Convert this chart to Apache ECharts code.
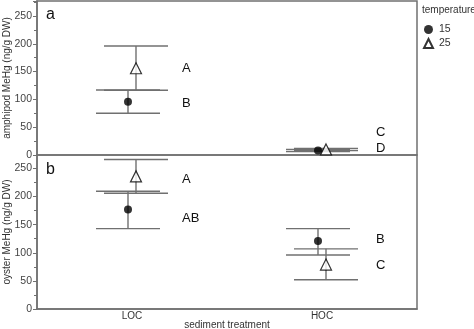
<!DOCTYPE html>
<html><head><meta charset="utf-8">
<script src="https://cdn.jsdelivr.net/npm/echarts@6/dist/echarts.min.js"></script>
<style>html,body{margin:0;padding:0;background:#fff}#c{width:474px;height:329px}</style>
</head><body><div id="c"></div>
<script>
const categories = ['LOC', 'HOC'];
const temps = ['15', '25'];
// panel a: amphipod MeHg
const amph15 = [96, 8];
const amph15Low = [75, 6];
const amph15High = [117, 10];
const amph25 = [156, 10];
const amph25Low = [116.5, 8];
const amph25High = [196, 12];
const amphLetters15 = ['B', 'D'];
const amphLetters15Y = [92, 11];
const amphLetters25 = ['A', 'C'];
const amphLetters25Y = [156, 40];
// panel b: oyster MeHg
const oys15 = [177, 121];
const oys15Low = [143, 96];
const oys15High = [209.5, 143];
const oys25 = [236, 79];
const oys25Low = [206, 52];
const oys25High = [266, 107];
const oysLetters15 = ['AB', 'B'];
const oysLetters15Y = [161, 123];
const oysLetters25 = ['A', 'C'];
const oysLetters25Y = [230, 77];
const yTicksA = [0, 50, 100, 150, 200, 250];
const yTicksB = [0, 50, 100, 150, 200, 250];

const FONT = 'Liberation Sans, Arial, sans-serif';
const GRAY = '#707070';
const DODGE = 4;
const CAPW = 32;

function errSeries(gi, low, high, off) {
  return {
    type: 'custom', xAxisIndex: gi, yAxisIndex: gi, z: 2, silent: true,
    data: low.map((l, i) => [i, l, high[i]]),
    renderItem: function (params, api) {
      const lo = api.coord([api.value(0), api.value(1)]);
      const hi = api.coord([api.value(0), api.value(2)]);
      const x = lo[0] + off;
      const st = { stroke: GRAY, lineWidth: 1.4 };
      return { type: 'group', children: [
        { type: 'line', shape: { x1: x - CAPW, y1: hi[1], x2: x + CAPW, y2: hi[1] }, style: st },
        { type: 'line', shape: { x1: x - CAPW, y1: lo[1], x2: x + CAPW, y2: lo[1] }, style: st },
        { type: 'line', shape: { x1: x, y1: hi[1], x2: x, y2: lo[1] }, style: st }
      ]};
    }
  };
}
function letterSeries(gi, letters, ys) {
  const offs = [50, 54];
  return {
    type: 'custom', xAxisIndex: gi, yAxisIndex: gi, z: 5, silent: true,
    data: ys.map((y, i) => [i, y]),
    renderItem: function (params, api) {
      const p = api.coord([api.value(0), api.value(1)]);
      return { type: 'text', x: p[0] + offs[params.dataIndex], y: p[1],
        style: { text: letters[params.dataIndex], fill: '#111', font: '13px ' + FONT, textAlign: 'left', textVerticalAlign: 'middle' } };
    }
  };
}
function pointSeries(gi, name, vals) {
  const circle = name === temps[0];
  return {
    type: 'scatter', name: name, xAxisIndex: gi, yAxisIndex: gi, z: 4,
    data: vals,
    symbol: circle ? 'circle' : 'triangle',
    symbolSize: circle ? 8 : 11,
    symbolOffset: [circle ? -DODGE : DODGE, 0],
    itemStyle: circle ? { color: '#000' } : { color: '#fff', borderColor: '#000', borderWidth: 1.2 }
  };
}
function yAxis(gi, name, max) {
  return {
    type: 'value', gridIndex: gi, min: 0, max: max, interval: 50,
    name: name, nameLocation: 'middle', nameGap: 25, nameMoveOverlap: false,
    nameTextStyle: { fontFamily: FONT, fontSize: 10, color: '#333' },
    axisLine: { show: true, lineStyle: { color: GRAY, width: 1.5 } },
    axisTick: { show: true, length: 4, lineStyle: { color: GRAY } },
    minorTick: { show: true, splitNumber: 2, length: 3, lineStyle: { color: GRAY } },
    splitLine: { show: false },
    axisLabel: { fontFamily: FONT, fontSize: 10.5, color: '#444', margin: 5, showMaxLabel: false,
      formatter: v => (gi === 0 ? yTicksA : yTicksB).includes(v) ? String(v) : '' }
  };
}
const chart = echarts.init(document.getElementById('c'), null, { renderer: 'canvas' });
chart.setOption({
  animation: false,
  backgroundColor: '#fff',
  grid: [
    { left: 37, top: 1, width: 380, height: 154, show: true, borderColor: GRAY, borderWidth: 1.5, backgroundColor: 'transparent', containLabel: false, outerBoundsMode: 'none' },
    { left: 37, top: 155, width: 380, height: 154, show: true, borderColor: GRAY, borderWidth: 1.5, backgroundColor: 'transparent', containLabel: false, outerBoundsMode: 'none' }
  ],
  xAxis: [
    { type: 'category', gridIndex: 0, data: categories, axisLine: { show: false }, axisTick: { show: false }, axisLabel: { show: false } },
    { type: 'category', gridIndex: 1, data: categories, name: 'sediment treatment', nameLocation: 'middle', nameGap: 11, nameMoveOverlap: false,
      nameTextStyle: { fontFamily: FONT, fontSize: 10, color: '#333' },
      axisLine: { show: true, lineStyle: { color: GRAY, width: 1.5 } }, axisTick: { show: false },
      axisLabel: { fontFamily: FONT, fontSize: 10, color: '#333', margin: 2 } }
  ],
  yAxis: [ yAxis(0, 'amphipod MeHg (ng/g DW)', 277), yAxis(1, 'oyster MeHg (ng/g DW)', 274) ],
  legend: {
    data: temps, orient: 'vertical', left: 418, top: 19, itemWidth: 9, itemHeight: 9, itemGap: 3,
    textStyle: { fontFamily: FONT, fontSize: 10.5, color: '#333', padding: [0, 0, 0, 1] }
  },
  graphic: [
    { type: 'text', left: 422, top: 5, style: { text: 'temperature', font: '10px ' + FONT, fill: '#333' } },
    { type: 'text', left: 46, top: 7, style: { text: 'a', font: '16px ' + FONT, fill: '#111' } },
    { type: 'text', left: 46, top: 162, style: { text: 'b', font: '16px ' + FONT, fill: '#111' } }
  ],
  series: [
    errSeries(0, amph15Low, amph15High, -DODGE),
    errSeries(0, amph25Low, amph25High, DODGE),
    errSeries(1, oys15Low, oys15High, -DODGE),
    errSeries(1, oys25Low, oys25High, DODGE),
    pointSeries(0, temps[0], amph15),
    pointSeries(0, temps[1], amph25),
    pointSeries(1, temps[0], oys15),
    pointSeries(1, temps[1], oys25),
    letterSeries(0, amphLetters15, amphLetters15Y),
    letterSeries(0, amphLetters25, amphLetters25Y),
    letterSeries(1, oysLetters15, oysLetters15Y),
    letterSeries(1, oysLetters25, oysLetters25Y)
  ]
});
</script></body></html>
